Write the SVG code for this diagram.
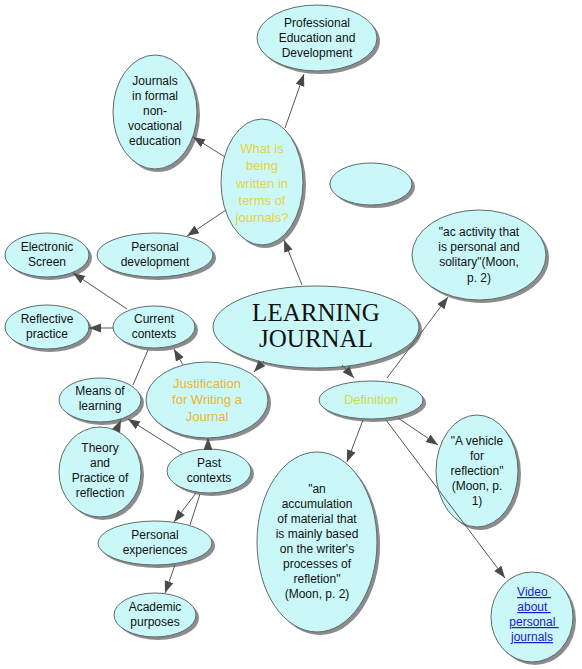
<svg xmlns="http://www.w3.org/2000/svg" width="582" height="669" viewBox="0 0 582 669">
<defs>
<marker id="arr" markerUnits="userSpaceOnUse" markerWidth="13" markerHeight="10" refX="12" refY="4.5" orient="auto">
<path d="M0,0 L12,4.5 L0,9 z" fill="#4a4a4a"/>
</marker>
<style>
.sh{fill:#8c8c8c}
.nd{fill:#caf8f9;stroke:#5f6b6b;stroke-width:1}
text{font-family:"Liberation Sans",Arial,sans-serif;font-size:12px;fill:#111;text-anchor:middle}
.q{font-size:13px}
.what{fill:#e8d23c}
.just{fill:#eeb42c}
.def{fill:#d6d83a}
.lj{font-family:"Liberation Serif","Times New Roman",serif;font-size:25px;fill:#111}
.lnk{fill:#1a1acc;text-decoration:underline}
.c line,.c path{stroke:#555;stroke-width:1;fill:none}
.c .a{marker-end:url(#arr)}
</style>
</defs>
<rect width="582" height="669" fill="#fff"/>
<g id="n-prof"><ellipse class="sh" cx="320" cy="41" rx="60" ry="33"/><ellipse class="nd" cx="317" cy="38" rx="60" ry="33"/><text x="317" y="27">Professional</text><text x="317" y="42">Education and</text><text x="317" y="57">Development</text></g>
<g id="n-formal"><ellipse class="sh" cx="158" cy="115" rx="42" ry="57"/><ellipse class="nd" cx="155" cy="112" rx="42" ry="57"/><text x="155" y="85">Journals</text><text x="155" y="100">in formal</text><text x="155" y="115">non-</text><text x="155" y="130">vocational</text><text x="155" y="145">education</text></g>
<g id="n-what"><ellipse class="sh" cx="265" cy="185" rx="41" ry="63"/><ellipse class="nd" cx="262" cy="182" rx="41" ry="63"/><text class="q what" x="262" y="153">What is</text><text class="q what" x="262" y="170">being</text><text class="q what" x="262" y="188">written in</text><text class="q what" x="262" y="205">terms of</text><text class="q what" x="262" y="222">journals?</text></g>
<g id="n-empty"><ellipse class="sh" cx="374" cy="187" rx="41" ry="21"/><ellipse class="nd" cx="371" cy="184" rx="41" ry="21"/></g>
<g id="n-ac"><ellipse class="sh" cx="482" cy="258" rx="67" ry="45"/><ellipse class="nd" cx="479" cy="255" rx="67" ry="45"/><text x="479" y="236">"ac activity that</text><text x="479" y="251">is personal and</text><text x="479" y="266">solitary"(Moon,</text><text x="479" y="282">p. 2)</text></g>
<g id="n-electronic"><ellipse class="sh" cx="50" cy="258" rx="42" ry="22"/><ellipse class="nd" cx="47" cy="255" rx="42" ry="22"/><text x="47" y="251">Electronic</text><text x="47" y="266">Screen</text></g>
<g id="n-persdev"><ellipse class="sh" cx="158" cy="258" rx="58" ry="22"/><ellipse class="nd" cx="155" cy="255" rx="58" ry="22"/><text x="155" y="251">Personal</text><text x="155" y="266">development</text></g>
<g id="n-reflective"><ellipse class="sh" cx="50" cy="330" rx="42" ry="22"/><ellipse class="nd" cx="47" cy="327" rx="42" ry="22"/><text x="47" y="323">Reflective</text><text x="47" y="338">practice</text></g>
<g id="n-current"><ellipse class="sh" cx="157" cy="330" rx="41" ry="21"/><ellipse class="nd" cx="154" cy="327" rx="41" ry="21"/><text x="154" y="323">Current</text><text x="154" y="338">contexts</text></g>
<g id="n-lj"><ellipse class="sh" cx="319" cy="330" rx="103" ry="41"/><ellipse class="nd" cx="316" cy="327" rx="103" ry="41"/><text class="lj" x="316" y="321">LEARNING</text><text class="lj" x="316" y="347">JOURNAL</text></g>
<g id="n-just"><ellipse class="sh" cx="210" cy="403" rx="61" ry="38"/><ellipse class="nd" cx="207" cy="400" rx="61" ry="38"/><text class="q just" x="207" y="388">Justification</text><text class="q just" x="207" y="404">for Writing a</text><text class="q just" x="207" y="421">Journal</text></g>
<g id="n-def"><ellipse class="sh" cx="374" cy="403" rx="52" ry="19"/><ellipse class="nd" cx="371" cy="400" rx="52" ry="19"/><text class="q def" x="371" y="404">Definition</text></g>
<g id="n-means"><ellipse class="sh" cx="103" cy="403" rx="41" ry="22"/><ellipse class="nd" cx="100" cy="400" rx="41" ry="22"/><text x="100" y="395">Means of</text><text x="100" y="410">learning</text></g>
<g id="n-theory"><ellipse class="sh" cx="103" cy="475" rx="41" ry="45"/><ellipse class="nd" cx="100" cy="472" rx="41" ry="45"/><text x="100" y="452">Theory</text><text x="100" y="467">and</text><text x="100" y="482">Practice of</text><text x="100" y="497">reflection</text></g>
<g id="n-past"><ellipse class="sh" cx="212" cy="474" rx="42" ry="22"/><ellipse class="nd" cx="209" cy="471" rx="42" ry="22"/><text x="209" y="467">Past</text><text x="209" y="482">contexts</text></g>
<g id="n-persexp"><ellipse class="sh" cx="158" cy="546" rx="57" ry="22"/><ellipse class="nd" cx="155" cy="543" rx="57" ry="22"/><text x="155" y="539">Personal</text><text x="155" y="554">experiences</text></g>
<g id="n-academic"><ellipse class="sh" cx="158" cy="618" rx="41" ry="22"/><ellipse class="nd" cx="155" cy="615" rx="41" ry="22"/><text x="155" y="611">Academic</text><text x="155" y="626">purposes</text></g>
<g id="n-accum"><ellipse class="sh" cx="320" cy="545" rx="60" ry="90"/><ellipse class="nd" cx="317" cy="542" rx="60" ry="90"/><text x="317" y="493">"an</text><text x="317" y="508">accumulation</text><text x="317" y="523">of material that</text><text x="317" y="538">is mainly based</text><text x="317" y="553">on the writer's</text><text x="317" y="568">processes of</text><text x="317" y="583">refletion"</text><text x="317" y="598">(Moon, p. 2)</text></g>
<g id="n-vehicle"><ellipse class="sh" cx="480" cy="474" rx="41" ry="56"/><ellipse class="nd" cx="477" cy="471" rx="41" ry="56"/><text x="477" y="445">"A vehicle</text><text x="477" y="460">for</text><text x="477" y="475">reflection"</text><text x="477" y="490">(Moon, p.</text><text x="477" y="505">1)</text></g>
<g id="n-video"><ellipse class="sh" cx="535" cy="620" rx="41" ry="45"/><ellipse class="nd" cx="532" cy="617" rx="41" ry="45"/><text class="lnk" x="534" y="596">Video&#160;</text><text class="lnk" x="534" y="611">about&#160;</text><text class="lnk" x="534" y="626">personal&#160;</text><text class="lnk" x="532" y="641">journals</text></g>
<g id="connectors" class="c">
<line class="a" x1="285" y1="128" x2="304" y2="74"/>
<line class="a" x1="225" y1="157" x2="193" y2="137"/>
<line class="a" x1="226" y1="210" x2="187" y2="236"/>
<line class="a" x1="302" y1="285" x2="284" y2="240"/>
<line class="a" x1="264" y1="361" x2="254" y2="372"/>
<line class="a" x1="342" y1="365" x2="354" y2="378"/>
<line class="a" x1="183" y1="365" x2="174" y2="349"/>
<line class="a" x1="208" y1="450" x2="208" y2="438"/>
<line class="a" x1="127" y1="309" x2="73" y2="273"/>
<line class="a" x1="113" y1="328" x2="89" y2="328"/>
<line x1="148" y1="350" x2="133" y2="385"/>
<line class="a" x1="182" y1="453" x2="128" y2="419"/>
<line class="a" x1="116" y1="431" x2="121" y2="420"/>
<line class="a" x1="196" y1="493" x2="174" y2="522"/>
<path class="a" d="M200,494 L190,525 M175,565 L165,593"/>
<line class="a" x1="363" y1="420" x2="347" y2="462"/>
<line class="a" x1="398" y1="418" x2="438" y2="445"/>
<line class="a" x1="387" y1="378" x2="448" y2="297"/>
<line class="a" x1="386" y1="420" x2="505" y2="578"/>
</g>
</svg>
